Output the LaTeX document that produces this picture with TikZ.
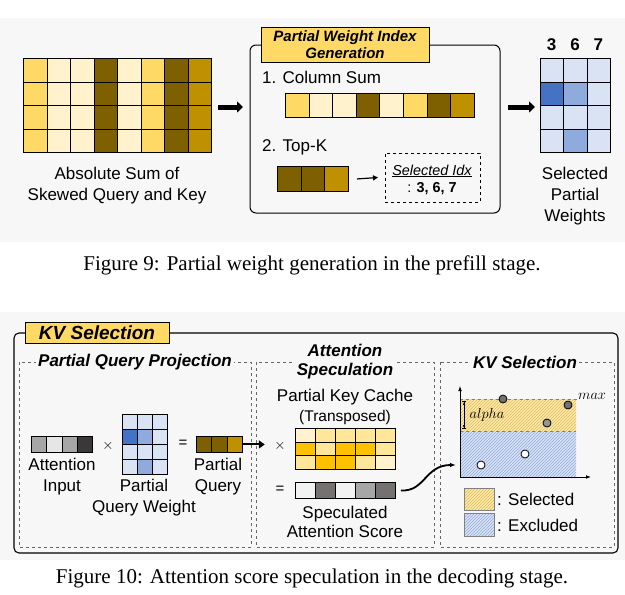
\documentclass[tikz,border=0pt]{standalone}
\usepackage{fontspec}
\setmainfont{Liberation Sans}
\newfontfamily\capfont{Liberation Serif}
\usetikzlibrary{patterns,arrows.meta,calc}
\definecolor{Ya}{HTML}{FFD966}\definecolor{Yp}{HTML}{FFF2CC}\definecolor{Yd}{HTML}{7F6000}\definecolor{Yg}{HTML}{BF9000}
\definecolor{Yo}{HTML}{FFC000}\definecolor{Yl}{HTML}{FFE699}
\definecolor{Bl}{HTML}{DAE3F3}\definecolor{Bd}{HTML}{4472C4}\definecolor{Bm}{HTML}{8FAADC}
\definecolor{G1}{HTML}{A6A6A6}\definecolor{G2}{HTML}{E7E6E6}\definecolor{G3}{HTML}{3A3838}\definecolor{G4}{HTML}{767171}\definecolor{G5}{HTML}{F2F2F2}
\begin{document}
\begin{tikzpicture}[x=1pt,y=-1pt,
  cell/.style={draw=black,line width=0.9pt,minimum width=#1,inner sep=0pt,anchor=north west},
  lab/.style={font=\fontsize{17}{21}\selectfont,align=center,inner sep=0pt},
  ttl/.style={font=\fontsize{17}{19}\selectfont\bfseries\itshape,align=center,inner sep=1pt},
  fat/.style={-{Triangle[length=6pt,width=11pt]},line width=5pt},
  figcap/.style={font=\capfont\fontsize{21}{24}\selectfont,inner sep=0pt}]
\useasboundingbox (0,0) rectangle (625,595);
\fill[black!3] (0,18) rectangle (625,242);
\fill[black!3] (0,312) rectangle (625,560);
% ---------- Figure 9 ----------
\foreach \c [count=\i] in {Ya,Yp,Yp,Yd,Yp,Ya,Yd,Yg}{
  \foreach \r in {0,...,3}{
    \node[cell=23.5pt,minimum height=23.5pt,fill=\c] (g\i\r) at ({23+(\i-1)*23.5},{58+\r*23.5}) {};}}
\node[lab] (absl) at (117,186) {Absolute Sum of\\Skewed Query and Key};
\coordinate (a1s) at (218,107); \coordinate (a1e) at (243,107);
\draw[fat] (a1s) -- (a1e);
\draw[line width=1pt,rounded corners=6pt] (250,45) rectangle (500,213);
\node[draw,line width=0.9pt,fill=Ya,minimum width=168pt,minimum height=35pt,ttl,font=\fontsize{15}{17}\selectfont\bfseries\itshape] (pwig) at (345,44.5) {Partial Weight Index\\Generation};
\node[lab,anchor=west] (cs) at (262,77) {1. Column Sum};
\foreach \c [count=\i] in {Ya,Yp,Yp,Yd,Yp,Ya,Yd,Yg}{
  \node[cell=23.6pt,minimum height=24pt,fill=\c] (cs\i) at ({285+(\i-1)*23.6},93) {};}
\node[lab,anchor=west] (tk) at (262,147) {2. Top-K};
\foreach \c [count=\i] in {Yd,Yd,Yg}{
  \node[cell=23.7pt,minimum height=25pt,fill=\c] (tk\i) at ({277+(\i-1)*23.7},166) {};}
\node[draw,dashed,line width=1pt,minimum width=95pt,minimum height=49pt,inner sep=0pt] (sel) at (432.5,177.5) {};
\node[inner sep=0pt,font=\fontsize{14.4}{16}\selectfont\itshape] (selt) at (432,171) {\underline{Selected Idx}};
\node[inner sep=0pt,font=\fontsize{14.4}{16}\selectfont] (seln) at (432,189) {: \textbf{3, 6, 7}};
\draw[-{Triangle[length=5pt,width=5pt]},line width=1.2pt] (tk3.east)++(8,0) -- (sel.west -| 378,0);
\coordinate (a2s) at (508,107); \coordinate (a2e) at (535,107);
\draw[fat] (a2s) -- (a2e);
\foreach \r/\a/\b/\c in {0/Bl/Bl/Bl,1/Bd/Bm/Bl,2/Bl/Bl/Bl,3/Bl/Bm/Bl}{
  \node[cell=23.3pt,minimum height=23.5pt,fill=\a] (b1\r) at (540,{58+\r*23.5}) {};
  \node[cell=23.3pt,minimum height=23.5pt,fill=\b] (b2\r) at (563.3,{58+\r*23.5}) {};
  \node[cell=23.3pt,minimum height=23.5pt,fill=\c] (b3\r) at (586.6,{58+\r*23.5}) {};}
\node[lab,font=\fontsize{17}{19}\selectfont\bfseries] (n3) at (551.7,45) {3};
\node[lab,font=\fontsize{17}{19}\selectfont\bfseries] (n6) at (575,45) {6};
\node[lab,font=\fontsize{17}{19}\selectfont\bfseries] (n7) at (598.3,45) {7};
\node[lab] (spw) at (575,196) {Selected\\Partial\\Weights};
\node[figcap] (cap9) at (312,265) {Figure 9: Partial weight generation in the prefill stage.};
% ---------- Figure 10 ----------
\draw[line width=1.1pt,rounded corners=5pt] (14,333) rectangle (618,553);
\node[draw,line width=0.9pt,fill=Ya,minimum width=144pt,minimum height=21pt,inner sep=0pt,font=\fontsize{19}{21}\selectfont\bfseries\itshape] (kvt) at (97,332.5) {KV Selection};
\draw[dashed,gray!80!black,line width=0.8pt] (19,362) rectangle (251,547);
\draw[dashed,gray!80!black,line width=0.8pt] (256,362) rectangle (434,547);
\draw[dashed,gray!80!black,line width=0.8pt] (440,362) rectangle (614,547);
\node[ttl,fill=black!3,inner sep=2pt] (pqp) at (135,362) {Partial Query Projection};
\node[ttl,fill=black!3,inner sep=2pt] (asp) at (345,362) {Attention\\Speculation};
\node[ttl,fill=black!3,inner sep=2pt] (kvs) at (525,362) {KV Selection};
% attention input
\foreach \c [count=\i] in {G1,G2,G1,G3}{
  \node[cell=15.25pt,minimum height=16pt,fill=\c] (ai\i) at ({31+(\i-1)*15.25},436) {};}
\node[lab] (ail) at (62,477) {Attention\\Input};
\node[lab,font=\fontsize{15}{17}\selectfont] (x1) at (108,446) {$\times$};
\foreach \r/\a/\b/\c in {0/Bl/Bl/Bl,1/Bd/Bm/Bl,2/Bl/Bl/Bl,3/Bl/Bm/Bl}{
  \node[cell=15pt,minimum height=15pt,fill=\a,line width=0.6pt] (w1\r) at (122,{414+\r*15}) {};
  \node[cell=15pt,minimum height=15pt,fill=\b,line width=0.6pt] (w2\r) at (137,{414+\r*15}) {};
  \node[cell=15pt,minimum height=15pt,fill=\c,line width=0.6pt] (w3\r) at (152,{414+\r*15}) {};}
\node[lab] (pqw) at (144,498) {Partial\\Query Weight};
\node[lab,font=\fontsize{15}{17}\selectfont] (e1) at (183,444) {=};
\foreach \c [count=\i] in {Yd,Yd,Yg}{
  \node[cell=15.3pt,minimum height=16pt,fill=\c] (pq\i) at ({196+(\i-1)*15.3},436) {};}
\node[lab] (pql) at (218,477) {Partial\\Query};
\draw[-{Triangle[length=6pt,width=8pt]},line width=2pt] (pq3.east) -- ++(22,0) coordinate (pqa);
% key cache
\node[lab,font=\fontsize{15}{17}\selectfont] (x2) at (280,446) {$\times$};
\node[lab] (pkc) at (345,397) {Partial Key Cache};
\node[lab,font=\fontsize{15.5}{17}\selectfont] (trn) at (345,417) {(Transposed)};
\foreach \r/\la in {0/{Yp,Yl,Yl,Yl,Yl},1/{Yo,Yl,Yo,Yo,Yl},2/{Yl,Yo,Yo,Yl,Yp}}{
  \foreach \c [count=\i] in \la {
    \node[cell=20pt,minimum height=13.7pt,fill=\c,line width=0.7pt] (k\i\r) at ({295+(\i-1)*20},{428+\r*13.7}) {};}}
\node[lab,font=\fontsize{15}{17}\selectfont] (e2) at (280,490) {=};
\foreach \c [count=\i] in {G5,G4,G5,G1,G4}{
  \node[cell=20pt,minimum height=16pt,fill=\c] (sc\i) at ({295+(\i-1)*20},482) {};}
\node[lab,font=\fontsize{17}{19}\selectfont] (sal) at (345,521.5) {Speculated\\Attention Score};
% plot
\coordinate (o) at (460,477);
\coordinate (yt) at (460,386);
\coordinate (xt) at (591,477);
\fill[Ya!60] (460,399) rectangle (576,431);
\fill[pattern=north east lines,pattern color=Yg!60] (460,399) rectangle (576,431);
\fill[Bl] (460,431) rectangle (576,477);
\fill[pattern=north east lines,pattern color=Bm] (460,431) rectangle (576,477);
\draw[dashed,gray,line width=0.7pt] (460,399) -- (578,399);
\draw[dashed,gray,line width=0.7pt] (460,431) -- (576,431);
\draw[-{Latex[length=5pt]},line width=0.9pt] (o) -- (yt);
\draw[-{Latex[length=5pt]},line width=0.9pt] (o) -- (xt);
\node[inner sep=0pt,anchor=west,font=\fontsize{15}{17}\selectfont] (mx) at (578,396) {$max$};
\draw[{Bar[width=4pt]Latex[length=3pt]}-{Latex[length=3pt]Bar[width=4pt]},line width=0.8pt] (464,401) -- (464,429);
\node[inner sep=0pt,font=\fontsize{15}{17}\selectfont] (al) at (487,415) {$alpha$};
\foreach \n/\x/\y/\f in {d1/503/399/G4,d2/568/405/G4,d3/547/423/G1!90!black,d4/525/454/white,d5/481/465/white}{
  \node[circle,draw,line width=0.8pt,fill=\f,minimum size=8pt,inner sep=0pt] (\n) at (\x,\y) {};}
\draw[-{Latex[length=6pt]},line width=1.8pt] (sc5.east)++(5,0) .. controls (425,492) and (425,465) .. (456,465) coordinate (ce);
% legend
\fill[Ya!60] (464,488) rectangle (494,510);
\fill[pattern=north east lines,pattern color=Yg!60] (464,488) rectangle (494,510);
\draw[gray,line width=0.6pt] (464,488) rectangle (494,510);
\node[lab,anchor=west] (ls) at (497,499) {: Selected};
\fill[Bl] (464,513) rectangle (494,536);
\fill[pattern=north east lines,pattern color=Bm] (464,513) rectangle (494,536);
\draw[gray,line width=0.6pt] (464,513) rectangle (494,536);
\node[lab,anchor=west] (le) at (497,525) {: Excluded};
\node[figcap] (cap10) at (312,578) {Figure 10: Attention score speculation in the decoding stage.};
\end{tikzpicture}
\end{document}
